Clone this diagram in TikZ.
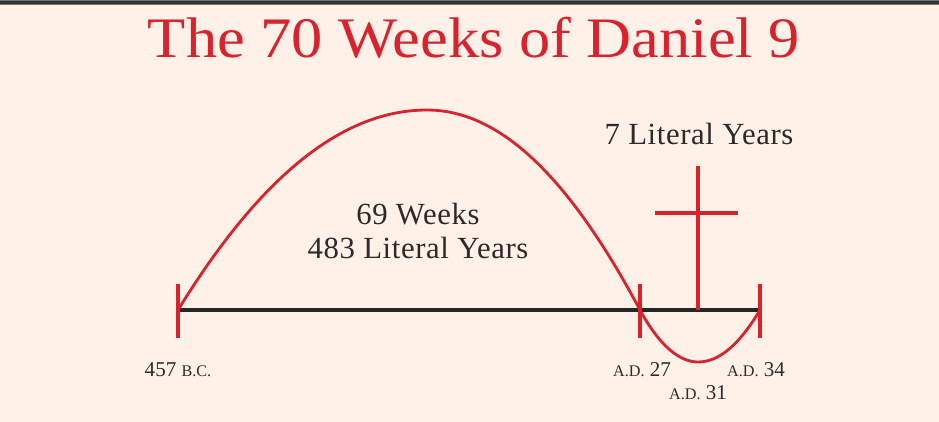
\documentclass[tikz,border=0pt]{standalone}
\usepackage{fontspec}
\setmainfont{Liberation Serif}
\newfontfamily\headfont[FakeStretch=1.09]{Liberation Serif}
\newfontfamily\capfont[LetterSpace=2]{Liberation Serif}
\usepackage{xcolor}
\usetikzlibrary{calc}
\definecolor{peach}{HTML}{FFF1E8}
\definecolor{dred}{HTML}{D8232E}
\definecolor{ink}{HTML}{2B2B2B}
\newcommand{\era}[1]{{\fontsize{9.2}{10}\selectfont #1}}

\begin{document}
\begin{tikzpicture}[x=0.02cm,y=-0.02cm,
  title/.style={anchor=base,text=dred,font=\headfont\fontsize{32.6}{38}\selectfont},
  caption/.style={anchor=base,text=ink,align=center,font=\capfont\fontsize{17.5}{19.3}\selectfont},
  datelbl/.style={anchor=base,text=ink,font=\fontsize{12}{14}\selectfont},
  timeline/.style={line width=2pt,black!85},
  tick/.style={line width=1.8pt,dred},
  wave/.style={line width=1.6pt,dred},
  crossbar/.style={line width=2.6pt,dred}
  ]

% Background and frame
\fill[peach] (0,0) rectangle (939,422);
\useasboundingbox (0,0) rectangle (939,422);
\fill[black!55] (0,0) rectangle (939,5);
\fill[black!80] (0,1) rectangle (939,4);

% Title
\node[title] (head) at (474,58) {The 70 Weeks of Daniel 9};

% Points on the time line
\coordinate (bc457) at (178,310);
\coordinate (ad27)  at (640,310);
\coordinate (ad31)  at (698,310);
\coordinate (ad34)  at (760,310);
\coordinate (peak)  at (427,110);
\coordinate (dip)   at (698,362);
\coordinate (crosstop) at (698,166);
\coordinate (armL)  at (655,213);
\coordinate (armR)  at (738,213);

% Time line
\draw[timeline] (bc457) -- (ad34);

% Ticks
\draw[tick] ($(bc457)+(0,-26)$) -- ($(bc457)+(0,28)$);
\draw[tick] ($(ad27)+(0,-26)$)  -- ($(ad27)+(0,28)$);
\draw[tick] ($(ad34)+(0,-26)$)  -- ($(ad34)+(0,28)$);

% The 69 weeks arc and the last week dip
\draw[wave] (bc457) .. controls (258,180) and (340,110) .. (peak)
  .. controls (500,110) and (569,177) .. (ad27)
  .. controls (659,345) and (679,362) .. (dip)
  .. controls (719,362) and (739,345) .. (ad34);

% Cross
\draw[crossbar] (crosstop) -- (ad31);
\draw[crossbar] (armL) -- (armR);

% Captions
\node[caption] (seven) at (699,145) {7 Literal Years};
\node[caption,anchor=north] (sixtynine) at (418,197)
  {69 Weeks\\483 Literal Years};

% Dates
\node[datelbl] (lbc457) at (178,376) {457 \era{B.C.}};
\node[datelbl] (lad27)  at (642,376) {\era{A.D.} 27};
\node[datelbl] (lad34)  at (756,376) {\era{A.D.} 34};
\node[datelbl] (lad31)  at (698,399) {\era{A.D.} 31};

\end{tikzpicture}
\end{document}
